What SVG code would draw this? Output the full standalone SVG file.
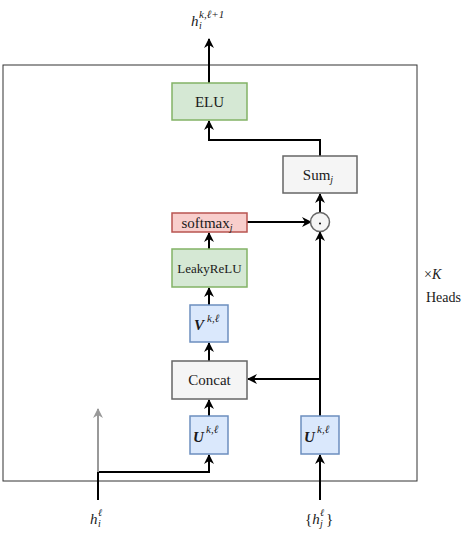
<svg xmlns="http://www.w3.org/2000/svg" width="474" height="545" viewBox="0 0 474 545" font-family="'Liberation Serif', 'DejaVu Serif', serif">
<defs>
<marker id="ah" markerWidth="10" markerHeight="10" refX="9" refY="5" orient="auto" markerUnits="userSpaceOnUse">
<path d="M0,0 L10,5 L0,10 L3,5 Z" fill="#000"/>
</marker>
<marker id="ahg" markerWidth="10" markerHeight="10" refX="9" refY="5" orient="auto" markerUnits="userSpaceOnUse">
<path d="M0,0 L10,5 L0,10 L3,5 Z" fill="#999"/>
</marker>
<style>
text{font-family:'Liberation Serif','DejaVu Serif',serif;fill:#1a1a1a}
.lbl{font-size:15px;text-anchor:middle}
.green{fill:#d5e8d4;stroke:#82b366;stroke-width:1.5}
.gray{fill:#f5f5f5;stroke:#666;stroke-width:1.5}
.red{fill:#f8cecc;stroke:#b85450;stroke-width:1.5}
.blue{fill:#dae8fc;stroke:#6c8ebf;stroke-width:1.5}
.c{fill:none;stroke:#000;stroke-width:2;marker-end:url(#ah)}
.it{font-style:italic}
.bi{font-style:italic;font-weight:bold}
</style>
</defs>
<rect x="0" y="0" width="474" height="545" fill="#fff"/>
<g id="frame"><rect x="3" y="65" width="414" height="416" fill="none" stroke="#333" stroke-width="1"/></g>
<g id="connectors">
<path class="c" d="M209,83 V39"/>
<path class="c" d="M320,156 V140 H209 V121"/>
<path class="c" d="M247,222 H311"/>
<path class="c" d="M320,213 V194"/>
<path class="c" d="M209,249 V233"/>
<path class="c" d="M209,305 V288"/>
<path class="c" d="M209,361 V343"/>
<path class="c" d="M320,416 V232"/>
<path class="c" d="M320,379 H248"/>
<path class="c" d="M209,416 V400"/>
<path class="c" d="M98,500 V472 H209 V455"/>
<path class="c" d="M320,500 V455"/>
<path d="M98,472 V409" fill="none" stroke="#999" stroke-width="2" marker-end="url(#ahg)"/>
</g>
<g id="elu"><rect class="green" x="172" y="83" width="75" height="37"/><text class="lbl" x="209.5" y="107">ELU</text></g>
<g id="sum"><rect class="gray" x="283" y="156" width="74" height="37"/><text class="lbl" x="318" y="180" font-size="14">Sum<tspan class="it" font-size="10" dy="3">j</tspan></text></g>
<g id="dot"><circle cx="320" cy="222" r="9.5" fill="#f5f5f5" stroke="#666" stroke-width="1.5"/><circle cx="320" cy="223.5" r="1" fill="#000"/></g>
<g id="softmax"><rect class="red" x="172" y="213" width="75" height="19"/><text class="lbl" x="207" y="227.5">softmax<tspan class="it" font-size="10" dy="3">j</tspan></text></g>
<g id="leakyrelu"><rect class="green" x="172" y="249" width="75" height="38"/><text x="209.5" y="273" font-size="13" text-anchor="middle">LeakyReLU</text></g>
<g id="v"><rect class="blue" x="190" y="305" width="38" height="37"/><text class="bi" x="194" y="330" font-size="15">V</text><text class="it" x="207" y="322" font-size="11">k,ℓ</text></g>
<g id="concat"><rect class="gray" x="172" y="361" width="75" height="38"/><text class="lbl" x="209.5" y="385">Concat</text></g>
<g id="u1"><rect class="blue" x="190" y="416" width="38" height="38"/><text class="bi" x="193" y="442" font-size="15">U</text><text class="it" x="206" y="433" font-size="11">k,ℓ</text></g>
<g id="u2"><rect class="blue" x="301" y="416" width="38" height="38"/><text class="bi" x="304" y="442" font-size="15">U</text><text class="it" x="317" y="433" font-size="11">k,ℓ</text></g>
<g id="out-label"><text class="it" x="191" y="26" font-size="15">h</text><text class="it" x="199" y="18" font-size="11">k,ℓ+1</text><text class="it" x="199" y="29" font-size="10">i</text></g>
<g id="hi-label"><text class="it" x="90" y="524" font-size="15">h</text><text class="it" x="98" y="516" font-size="10">ℓ</text><text class="it" x="98" y="527" font-size="10">i</text></g>
<g id="hj-label"><text x="305" y="524" font-size="15">{<tspan class="it">h</tspan></text><text class="it" x="320" y="516" font-size="10">ℓ</text><text class="it" x="320" y="527" font-size="10">j</text><text x="326" y="524" font-size="15">}</text></g>
<g id="heads"><text x="424" y="279" font-size="14">×<tspan class="it">K</tspan></text><text x="426" y="302" font-size="14">Heads</text></g>
</svg>
